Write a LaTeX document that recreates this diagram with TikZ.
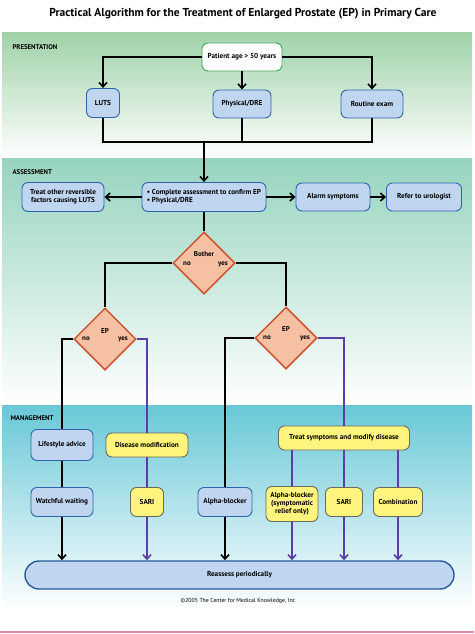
\documentclass[tikz,border=0pt]{standalone}
\usepackage{fontspec}
\setmainfont{PT Sans}
\usetikzlibrary{shapes.geometric,arrows.meta}
\definecolor{boxblue}{RGB}{192,213,240}
\definecolor{edgeblue}{RGB}{45,100,170}
\definecolor{boxyellow}{RGB}{255,244,125}
\definecolor{edgegray}{RGB}{105,105,95}
\definecolor{salmon}{RGB}{246,192,162}
\definecolor{rust}{RGB}{205,85,50}
\definecolor{yespath}{RGB}{88,62,165}
\definecolor{agegreen}{RGB}{60,170,85}
\definecolor{presgreen}{RGB}{160,210,168}
\definecolor{assgreen}{RGB}{150,212,190}
\definecolor{mancyan}{RGB}{105,200,215}
\definecolor{pinkline}{RGB}{220,140,170}
\tikzset{>={Straight Barb[length=4.5pt,width=8pt]}}
\tikzset{
  box/.style={rounded corners=6pt, line width=0.9pt, align=center, inner sep=1pt,
    font=\fontsize{7.2}{8}\selectfont\bfseries},
  bluebox/.style={box, draw=edgeblue, fill=boxblue},
  yellowbox/.style={box, draw=edgegray, fill=boxyellow},
  ask/.style={diamond, draw=rust, fill=salmon, line width=1.5pt,
    minimum width=62pt, minimum height=62pt, inner sep=0pt},
  asktext/.style={font=\fontsize{7}{8}\selectfont\bfseries},
  band/.style={font=\fontsize{6.8}{8}\selectfont\bfseries, anchor=west},
  flow/.style={line width=1.6pt, black},
  yesflow/.style={line width=1.6pt, yespath},
}

\begin{document}
\begin{tikzpicture}[x=1pt,y=-1pt]
    \useasboundingbox (0,0) rectangle (474,634);
    % bands
    \shade[top color=presgreen, bottom color=white] (2,33) rectangle (472,158);
    \shade[top color=assgreen, bottom color=white] (2,158) rectangle (472,405);
    \shade[top color=mancyan, bottom color=white] (2,405) rectangle (472,610);
    \draw[line width=1.5pt, pinkline] (0,632)--(474,632);
    \node[font=\fontsize{11.5}{13}\selectfont\bfseries] (T) at (243,14)
        {Practical Algorithm for the Treatment of Enlarged Prostate (EP) in Primary Care};
    \node[band] (P) at (9,47) {PRESENTATION};
    \node[band] (A) at (9,172) {ASSESSMENT};
    \node[band] (M) at (7,418) {MANAGEMENT};
    % presentation
    \node[box, draw=agegreen, fill=white, minimum width=80pt, minimum height=28pt] (Age) at (242,57) {Patient age > 50 years};
    \node[bluebox, minimum width=33pt, minimum height=29pt] (LUTS) at (103,103) {LUTS};
    \node[bluebox, minimum width=58pt, minimum height=28pt] (DRE) at (242,104) {Physical/DRE};
    \node[bluebox, minimum width=62pt, minimum height=28pt] (Exam) at (372,104) {Routine exam};
    \coordinate (Mrg) at (204,142);
    % assessment
    \node[bluebox, minimum width=124pt, minimum height=29pt, align=left] (CA) at (204,197)
        {• Complete assessment to confirm EP\\ • Physical/DRE};
    \node[bluebox, minimum width=82pt, minimum height=29pt] (Treat) at (63,197) {Treat other reversible\\ factors causing LUTS};
    \node[bluebox, minimum width=74pt, minimum height=28pt] (Alarm) at (333,197) {Alarm symptoms};
    \node[bluebox, minimum width=75pt, minimum height=28pt] (Refer) at (424,197) {Refer to urologist};
    \node[ask] (B) at (204,263) {};
    \node[asktext] at ([yshift=9pt]B.center) {Bother};
    \node[asktext] at ([xshift=-17pt,yshift=-1pt]B.center) {no};
    \node[asktext] at ([xshift=19pt,yshift=-1pt]B.center) {yes};
    \node[ask] (EP1) at (105,339) {};
    \node[asktext] at ([yshift=8pt]EP1.center) {EP};
    \node[asktext] at ([xshift=-19pt]EP1.center) {no};
    \node[asktext] at ([xshift=18pt]EP1.center) {yes};
    \node[ask] (EP2) at (286,338) {};
    \node[asktext] at ([yshift=9pt]EP2.center) {EP};
    \node[asktext] at ([xshift=-19pt]EP2.center) {no};
    \node[asktext] at ([xshift=19pt]EP2.center) {yes};
    % management
    \node[bluebox, minimum width=62pt, minimum height=31pt] (Life) at (62,445) {Lifestyle advice};
    \node[bluebox, minimum width=62pt, minimum height=29pt] (Wait) at (62,502) {Watchful waiting};
    \node[yellowbox, minimum width=82pt, minimum height=24pt] (DM) at (147,445) {Disease modification};
    \node[yellowbox, minimum width=33pt, minimum height=29pt] (SARI) at (147,502) {SARI};
    \node[bluebox, minimum width=54pt, minimum height=29pt] (AB) at (225,502) {Alpha-blocker};
    \node[yellowbox, minimum width=131pt, minimum height=24pt] (TS) at (344,438) {Treat symptoms and modify disease};
    \node[yellowbox, minimum width=52pt, minimum height=35pt] (ABS) at (292,504) {Alpha-blocker\\ (symptomatic\\ relief only)};
    \node[yellowbox, minimum width=37pt, minimum height=29pt] (SARIb) at (344,502) {SARI};
    \node[yellowbox, minimum width=49pt, minimum height=29pt] (Comb) at (398,502) {Combination};
    \node[bluebox, draw=edgeblue!90!black, line width=1.4pt, rounded corners=14pt,
        minimum width=429pt, minimum height=28pt] (Re) at (239.5,575) {Reassess periodically};
    \node[font=\fontsize{5.8}{7}\selectfont] (C) at (238,601) {\textcopyright 2005 The Center for Medical Knowledge, Inc};
    % connectors
    \draw[->,flow] (Age.west) -| (LUTS.north);
    \draw[->,flow] (Age) -- (DRE);
    \draw[->,flow] (Age.east) -| (Exam.north);
    \draw[flow] (LUTS.south) |- (Exam.south |- Mrg) -- (Exam.south);
    \draw[flow] (DRE.south) -- (DRE.south |- Mrg);
    \draw[->,flow] (Mrg) -- (CA.north);
    \draw[->,flow] (CA) -- (Treat);
    \draw[->,flow] (CA) -- (Alarm);
    \draw[->,flow] (Alarm) -- (Refer);
    \draw[flow] (CA) -- (B);
    \draw[flow] (B.west) -| (EP1.north);
    \draw[flow] (B.east) -| (EP2.north);
    \draw[flow] (EP1.west) -| (Life.north);
    \draw[flow] (Life) -- (Wait);
    \draw[->,flow] (Wait) -- (Wait |- Re.north);
    \draw[yesflow] (EP1.east) -| (DM.north);
    \draw[yesflow] (DM) -- (SARI);
    \draw[->,yesflow] (SARI) -- (SARI |- Re.north);
    \draw[flow] (EP2.west) -| (AB.north);
    \draw[->,flow] (AB) -- (AB |- Re.north);
    \draw[yesflow] (EP2.east) -| (TS.north);
    \foreach \n in {ABS,SARIb,Comb} {
        \draw[yesflow] (TS.south -| \n) -- (\n);
        \draw[->,yesflow] (\n) -- (\n |- Re.north);
    }
\end{tikzpicture}
\end{document}
